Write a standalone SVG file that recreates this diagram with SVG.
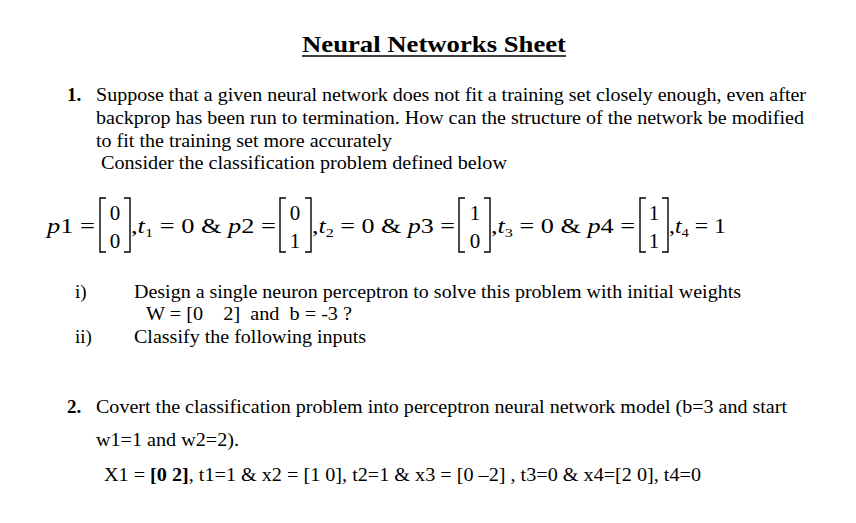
<svg xmlns="http://www.w3.org/2000/svg" width="856" height="523" viewBox="0 0 856 523">
<style>
text{font-family:"Liberation Serif","Times New Roman",serif;font-size:19px;fill:#000}
.m{font-size:21px}
.i{font-style:italic}
.s{font-size:13px}
.br{fill:none;stroke:#000;stroke-width:1.4}
</style>
<rect width="856" height="523" fill="#fff"/>
<g id="title">
<text x="434" y="52" text-anchor="middle" style="font-size:23px;font-weight:bold" textLength="264" lengthAdjust="spacingAndGlyphs">Neural Networks Sheet</text>
<line x1="302" y1="56" x2="566" y2="56" stroke="#000" stroke-width="1.4"/>
</g>
<g id="q1">
<text x="67" y="101" style="font-weight:bold">1.</text>
<text x="96" y="101" textLength="710" lengthAdjust="spacingAndGlyphs">Suppose that a given neural network does not fit a training set closely enough, even after</text>
<text x="96" y="124" textLength="708" lengthAdjust="spacingAndGlyphs">backprop has been run to termination. How can the structure of the network be modified</text>
<text x="96" y="147" textLength="296" lengthAdjust="spacingAndGlyphs">to fit the training set more accurately</text>
<text x="101" y="169" textLength="406" lengthAdjust="spacingAndGlyphs">Consider the classification problem defined below</text>
</g>
<g id="equation" class="m">
<text class="m" x="47" y="233" textLength="48" lengthAdjust="spacingAndGlyphs"><tspan class="i">p</tspan>1 =</text>
<path class="br" d="M106,198 H100 V252 H106 M124,198 H130 V252 H124"/>
<text class="m" x="115" y="220" text-anchor="middle">0</text><text class="m" x="115" y="248" text-anchor="middle">0</text>
<text class="m" x="131" y="233" textLength="145" lengthAdjust="spacingAndGlyphs">,<tspan class="i">t</tspan><tspan class="s" dy="4">1</tspan><tspan dy="-4"> = 0 &amp; </tspan><tspan class="i">p</tspan>2 =</text>
<path class="br" d="M286,198 H280 V252 H286 M305,198 H311 V252 H305"/>
<text class="m" x="295" y="220" text-anchor="middle">0</text><text class="m" x="295" y="248" text-anchor="middle">1</text>
<text class="m" x="312" y="233" textLength="143" lengthAdjust="spacingAndGlyphs">,<tspan class="i">t</tspan><tspan class="s" dy="4">2</tspan><tspan dy="-4"> = 0 &amp; </tspan><tspan class="i">p</tspan>3 =</text>
<path class="br" d="M465,198 H459 V252 H465 M484,198 H490 V252 H484"/>
<text class="m" x="475" y="220" text-anchor="middle">1</text><text class="m" x="475" y="248" text-anchor="middle">0</text>
<text class="m" x="491" y="233" textLength="144" lengthAdjust="spacingAndGlyphs">,<tspan class="i">t</tspan><tspan class="s" dy="4">3</tspan><tspan dy="-4"> = 0 &amp; </tspan><tspan class="i">p</tspan>4 =</text>
<path class="br" d="M646,198 H640 V252 H646 M662,198 H668 V252 H662"/>
<text class="m" x="654" y="220" text-anchor="middle">1</text><text class="m" x="654" y="248" text-anchor="middle">1</text>
<text class="m" x="669" y="233" textLength="57" lengthAdjust="spacingAndGlyphs">,<tspan class="i">t</tspan><tspan class="s" dy="4">4</tspan><tspan dy="-4"> = 1</tspan></text>
</g>
<g id="subitems">
<text x="75" y="298">i)</text>
<text x="134" y="298" textLength="607" lengthAdjust="spacingAndGlyphs">Design a single neuron perceptron to solve this problem with initial weights</text>
<text x="146" y="320" xml:space="preserve" textLength="206" lengthAdjust="spacingAndGlyphs">W = [0    2]  and  b = -3 ?</text>
<text x="75" y="343">ii)</text>
<text x="134" y="343" textLength="232" lengthAdjust="spacingAndGlyphs">Classify the following inputs</text>
</g>
<g id="q2">
<text x="67" y="413" style="font-weight:bold">2.</text>
<text x="96" y="413" textLength="691" lengthAdjust="spacingAndGlyphs">Covert the classification problem into perceptron neural network model (b=3 and start</text>
<text x="96" y="446" textLength="143" lengthAdjust="spacingAndGlyphs">w1=1 and w2=2).</text>
<text x="104" y="481" textLength="597" lengthAdjust="spacingAndGlyphs">X1 = <tspan style="font-weight:bold">[0 2]</tspan>, t1=1 &amp; x2 = [1 0], t2=1 &amp; x3 = [0 –2] , t3=0 &amp; x4=[2  0], t4=0</text>
</g>
</svg>
